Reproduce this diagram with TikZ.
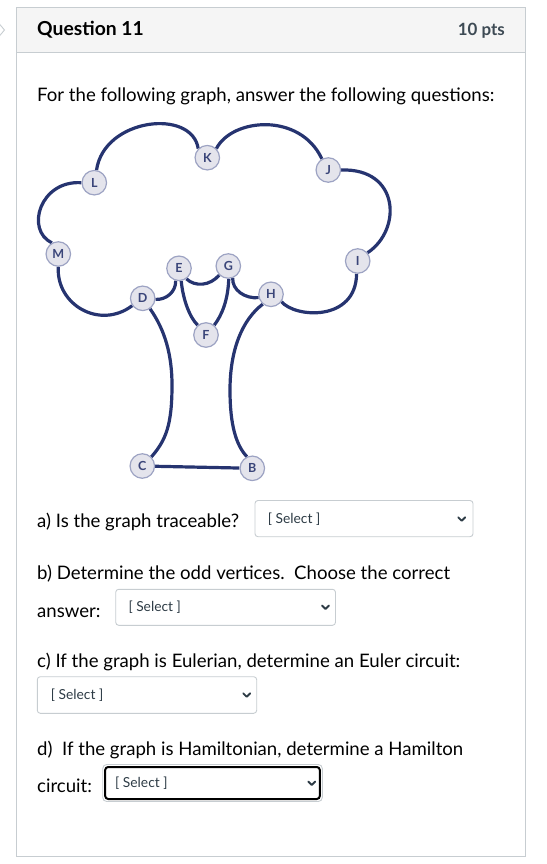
\documentclass[tikz,border=0pt]{standalone}
\usepackage{fontspec}
\setmainfont{Lato}
\definecolor{bordercol}{RGB}{199,205,209}
\definecolor{headfill}{RGB}{245,245,245}
\definecolor{txt}{RGB}{45,59,69}
\definecolor{ptscol}{RGB}{61,74,84}
\definecolor{edgecol}{RGB}{38,52,112}
\definecolor{vfill}{RGB}{228,228,236}
\definecolor{vdraw}{RGB}{157,163,195}
\definecolor{vtext}{RGB}{58,69,121}
\pgfdeclarelayer{bg}
\pgfsetlayers{bg,main}
\tikzset{
  vtx/.style={circle, minimum size=24.5pt, inner sep=0pt, fill=vfill, draw=vdraw, line width=1.2pt, text=vtext, font=\fontsize{12.5}{13}\selectfont\bfseries},
  edge/.style={draw=edgecol, line width=3.2pt},
  bodytext/.style={anchor=base west, inner sep=0pt, text=black, font=\fontsize{18.6}{21}\selectfont},
  seltext/.style={anchor=base west, inner sep=0pt, text=txt, font=\fontsize{13.8}{15}\selectfont},
  selbox/.style={draw=bordercol, line width=0.9pt, rounded corners=3pt, fill=white},
  chev/.style={draw=txt, line width=1.9pt, line cap=round, line join=round}
}
\begin{document}
\begin{tikzpicture}[x=1pt,y=1pt]
\useasboundingbox (0,0) rectangle (546,-864);
% frame
\fill[headfill] (16.5,-7.5) rectangle (525.5,-53);
\draw[bordercol, line width=1pt] (16.5,-7.5) rectangle (525.5,-856.5);
\draw[bordercol, line width=1pt] (16.5,-53) -- (525.5,-53);
\draw[bordercol, line width=0.9pt] (-1,-23.5) -- (4.5,-30) -- (-1,-36.5);
% header texts
\node[anchor=base west, inner sep=0pt, font=\fontsize{19.3}{21}\selectfont\bfseries] (title) at (37,-35.5) {Question 11};
\node[anchor=base east, inner sep=0pt, text=ptscol, font=\fontsize{16.9}{18}\selectfont\bfseries] (pts) at (505,-36) {10 pts};
\node[bodytext] (intro) at (37,-102) {For the following graph, answer the following questions:};
% vertices
\node[vtx] (L) at (94.3,-182.7) {L};
\node[vtx] (K) at (207.3,-157.7) {K};
\node[vtx] (J) at (328.3,-170) {J};
\node[vtx] (M) at (58.3,-254) {M};
\node[vtx] (E) at (179,-268.3) {E};
\node[vtx] (D) at (142.7,-298.3) {D};
\node[vtx] (F) at (206,-335) {F};
\node[vtx] (G) at (228.3,-266) {G};
\node[vtx] (H) at (271,-294.3) {H};
\node[vtx] (I) at (357.7,-261) {I};
\node[vtx] (C) at (142.3,-466) {C};
\node[vtx] (B) at (252.3,-468.3) {B};
% edges
\begin{pgfonlayer}{bg}
\draw[edge] (L.80) .. controls (104,-118) and (192,-108) .. (K.135);
\draw[edge] (K.45) .. controls (232,-118) and (300,-112) .. (J.120);
\draw[edge] (J.0) .. controls (400,-168) and (402,-230) .. (I.40);
\draw[edge] (L.180) .. controls (40,-180) and (25,-230) .. (M.120);
\draw[edge] (M.270) .. controls (56,-305) and (100,-330) .. (D.215);
\draw[edge] (D.-5) .. controls (166,-300) and (176,-292) .. (E.255);
\draw[edge] (E.305) .. controls (195,-287) and (210,-286) .. (G.225);
\draw[edge] (E.280) .. controls (183,-300) and (190,-318) .. (F.130);
\draw[edge] (G.272) .. controls (228,-300) and (222,-315) .. (F.50);
\draw[edge] (G.290) .. controls (232,-290) and (245,-299) .. (H.195);
\draw[edge] (H.-35) .. controls (295,-318) and (356,-322) .. (I.265);
\draw[edge] (D.305) .. controls (165,-330) and (172,-355) .. (172,-385) .. controls (172,-425) and (166,-440) .. (C.45);
\draw[edge] (H.230) .. controls (242,-320) and (230,-350) .. (230,-390) .. controls (230,-425) and (236,-445) .. (B.115);
\draw[edge] (C) -- (B);
\end{pgfonlayer}
% question a
\node[bodytext] (qa) at (37,-527.5) {a) Is the graph traceable?};
\draw[selbox] (255,-500.5) rectangle (473,-536.7);
\node[seltext] (sa) at (267.7,-523.3) {[ Select ]};
\draw[chev] (458.2,-517.3) -- (461.7,-520.8) -- (465.2,-517.3);
% question b
\node[bodytext] (qb) at (37,-579.5) {b) Determine the odd vertices.\ \ Choose the correct};
\node[bodytext] (qb2) at (37,-617) {answer:};
\draw[selbox] (115.7,-589.3) rectangle (335.5,-625.3);
\node[seltext] (sb) at (128.3,-611.5) {[ Select ]};
\draw[chev] (322,-605.5) -- (325.5,-609) -- (329,-605.5);
% question c
\node[bodytext] (qc) at (37,-667) {c) If the graph is Eulerian, determine an Euler circuit:};
\draw[selbox] (37.3,-676.7) rectangle (256.7,-713.3);
\node[seltext] (sc) at (50.7,-699.3) {[ Select ]};
\draw[chev] (243.2,-693.3) -- (246.7,-696.8) -- (250.2,-693.3);
% question d
\node[bodytext] (qd) at (37,-755) {d)\ \ If the graph is Hamiltonian, determine a Hamilton};
\node[bodytext] (qd2) at (37,-792) {circuit:};
\draw[bordercol, line width=0.9pt, rounded corners=4pt] (102.7,-764.5) rectangle (322.3,-801.5);
\draw[black, line width=2pt, rounded corners=3pt] (105.2,-767) rectangle (319.8,-799);
\node[seltext] (sd) at (115,-787.3) {[ Select ]};
\draw[chev] (308.2,-781.5) -- (311.7,-785) -- (315.2,-781.5);
\end{tikzpicture}
\end{document}
